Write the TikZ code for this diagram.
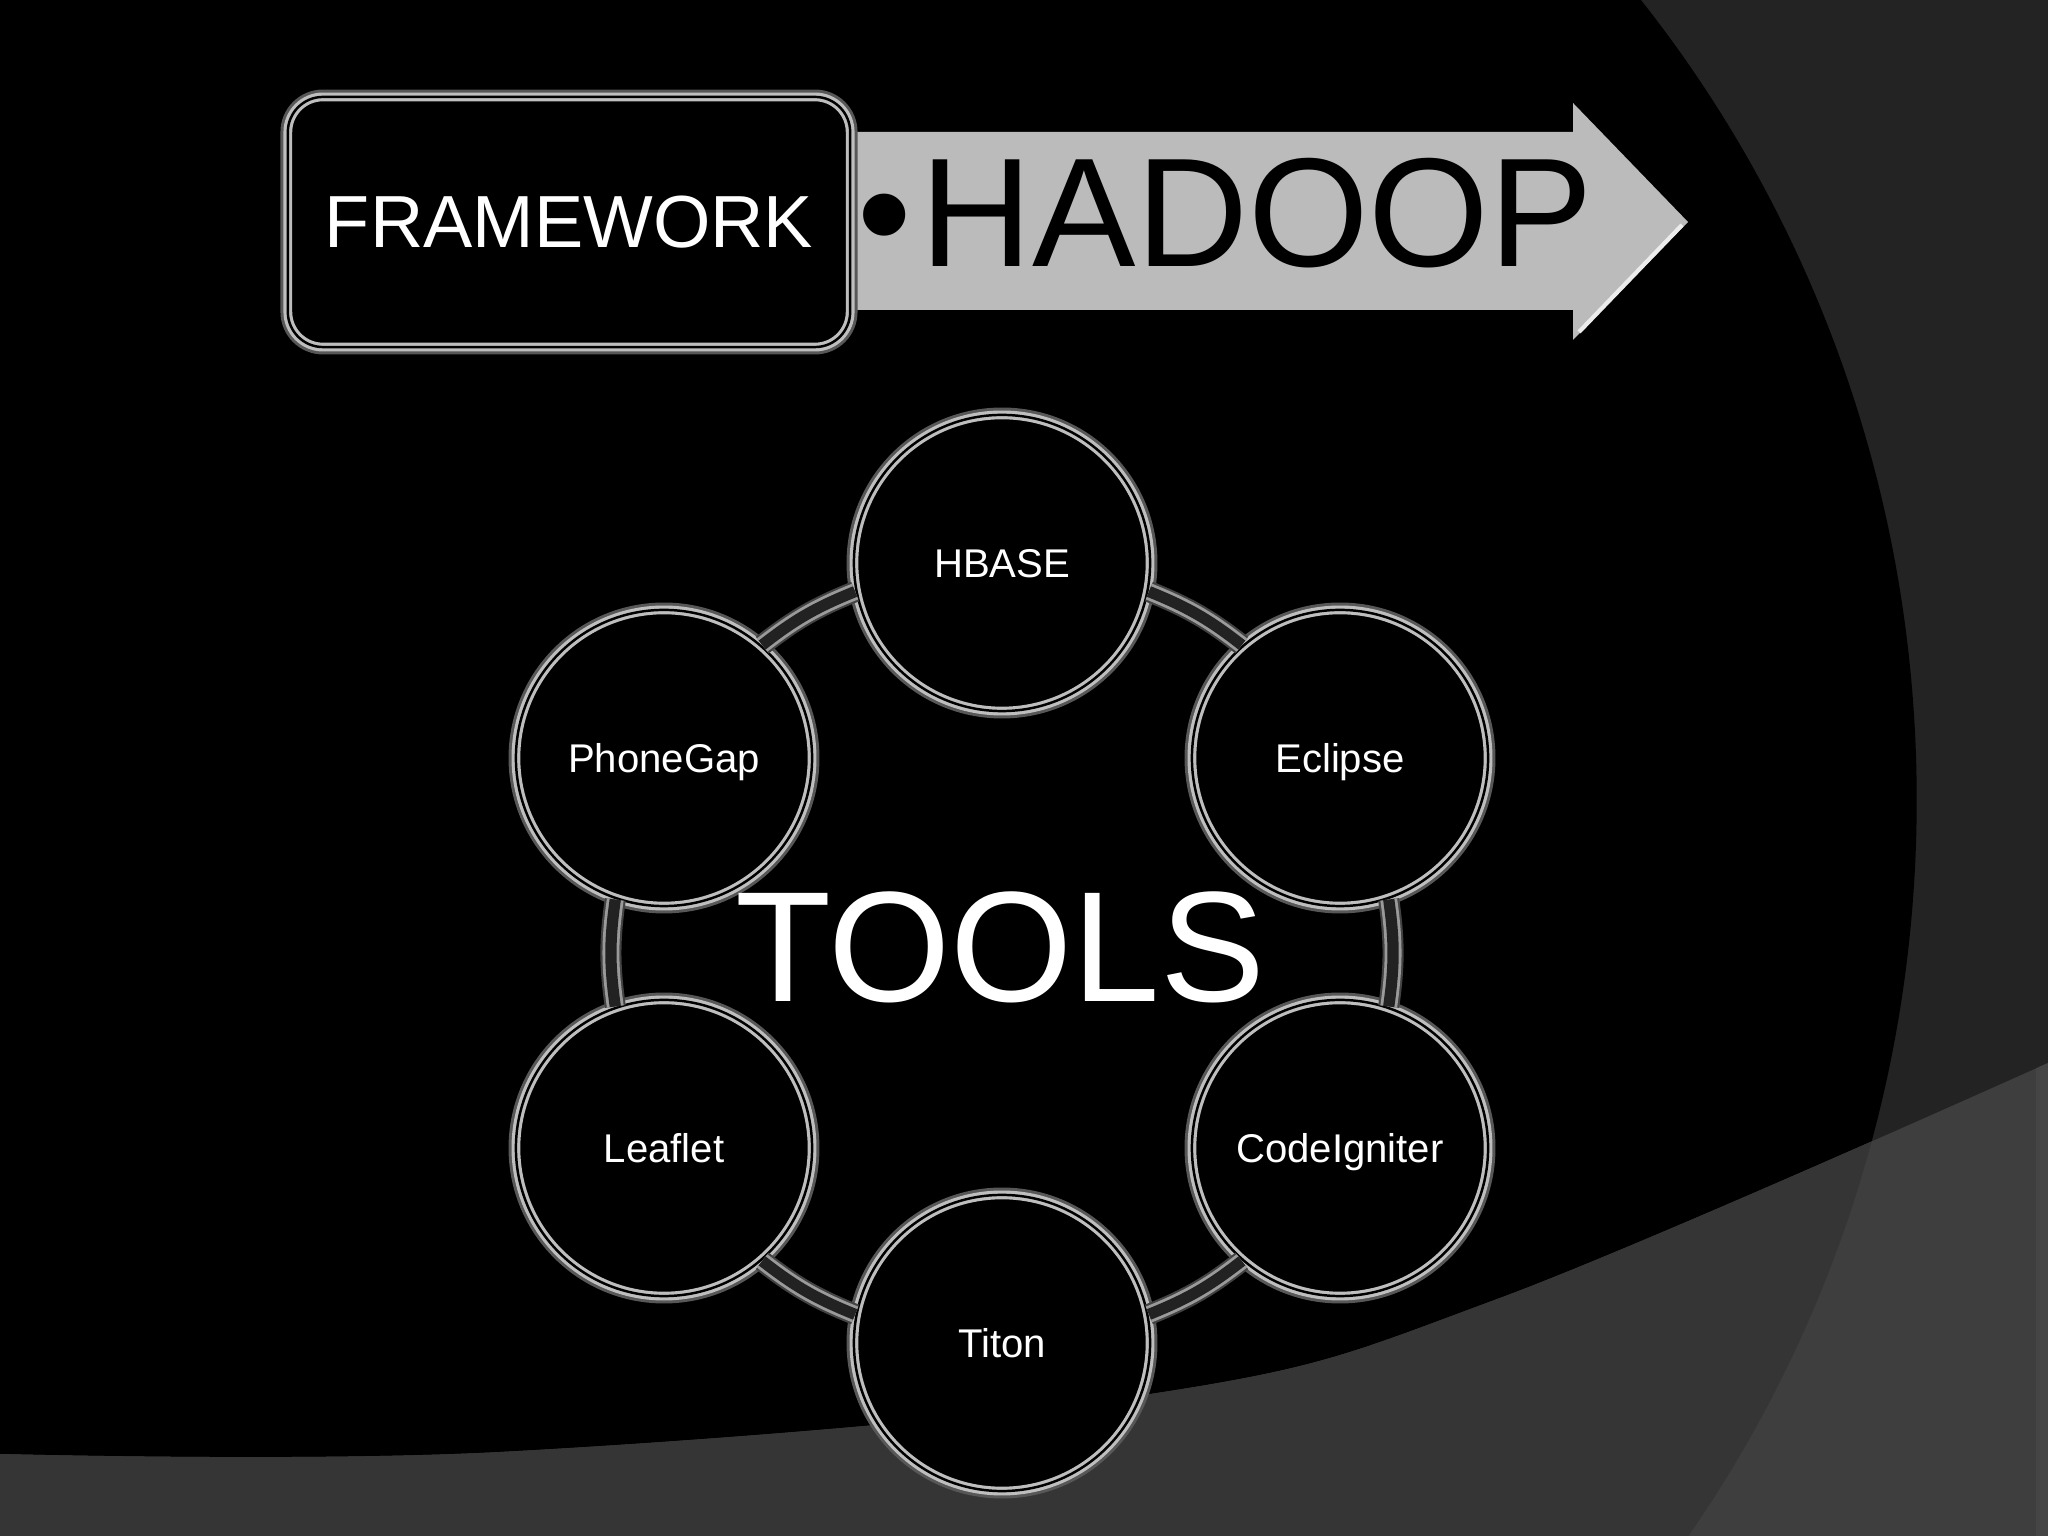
\documentclass[tikz,border=0pt]{standalone}
\usepackage{fontspec}
\setmainfont{Liberation Sans}

\definecolor{bgdark}{HTML}{232323}
\definecolor{bandout}{HTML}{3E3E3E}
\definecolor{bandin}{HTML}{353535}
\definecolor{bandedge}{HTML}{454545}
\definecolor{arrowgray}{HTML}{BBBBBB}
\definecolor{rimgray}{HTML}{BEBEBE}
\definecolor{glowgray}{HTML}{575757}
\definecolor{tubegray}{HTML}{9A9A9A}
\definecolor{tubefill}{HTML}{222222}
\definecolor{tubeglow}{HTML}{424242}

\newcommand{\bandpath}{(0,0) -- plot[smooth, tension=0.6] coordinates {(0,82) (500,84) (1157,143) (1500,238) (2048,473)} -- (2048,0) -- cycle}

\begin{document}
\begin{tikzpicture}[x=0.01cm, y=0.01cm,
        toolnode/.style={circle, minimum size=2.96cm, inner sep=0pt, fill=black,
            draw=rimgray, line width=0.9pt, double=black, double distance=0.7pt,
            preaction={draw=glowgray, line width=4.2pt},
            text=white, font=\fontsize{11.4pt}{13pt}\selectfont, text height=8.2pt, text depth=0pt},
        framebox/.style={rectangle, rounded corners=10pt, minimum width=5.62cm, minimum height=2.5cm,
            inner sep=0pt, fill=black, draw=rimgray, line width=0.9pt, double=black, double distance=0.7pt,
            preaction={draw=glowgray, line width=4.2pt},
            text=white, font=\fontsize{21pt}{25pt}\selectfont},
        ringlink/.style={draw=tubegray, line width=0.8pt, double=tubefill, double distance=3.2pt,
            preaction={draw=tubeglow, line width=6pt}}]
    \useasboundingbox (0,0) rectangle (2048,1536);
    \clip (0,0) rectangle (2048,1536);

    % Background: dark corner, black oval, lower band
    \fill[bgdark] (0,0) rectangle (2048,1536);
    \fill[black] (700,736) ellipse [x radius=12.16cm, y radius=12.61cm];
    \fill[bandout] \bandpath;
    \begin{scope}
        \clip (700,736) ellipse [x radius=12.16cm, y radius=12.61cm];
        \fill[bandin] \bandpath;
    \end{scope}
    \begin{scope}
        \clip (2036,0) rectangle (2048,1536);
        \fill[bandedge] \bandpath;
    \end{scope}

    % Arrow behind the framework box
    \fill[arrowgray] (800,1404) -- (1573,1404) -- (1573,1433) -- (1688,1314) -- (1573,1196) -- (1573,1226) -- (800,1226) -- cycle;
    \draw[white!85!gray, line width=1.2pt] (1682,1311) -- (1579,1204);

    \node[framebox] (frame) at (569,1314) {FRAMEWORK};
    \node[anchor=base west, inner sep=0pt, font=\fontsize{44.1pt}{50pt}\selectfont] (hadoop) at (857,1269) {•\kern2.5pt HADOOP};

    % Tools around the ring
    \node[toolnode] (hbase) at (1002,973) {HBASE};
    \node[toolnode] (eclipse) at (1340,778) {Eclipse};
    \node[toolnode] (codeigniter) at (1340,388) {CodeIgniter};
    \node[toolnode] (titon) at (1002,193) {Titon};
    \node[toolnode] (leaflet) at (664,388) {Leaflet};
    \node[toolnode] (phonegap) at (664,778) {PhoneGap};

    \draw[ringlink] (hbase.-11) to[out=-22, in=142] (eclipse.131);
    \draw[ringlink] (eclipse.-71) to[out=-82, in=82] (codeigniter.71);
    \draw[ringlink] (codeigniter.-131) to[out=-142, in=22] (titon.11);
    \draw[ringlink] (titon.169) to[out=158, in=-38] (leaflet.-49);
    \draw[ringlink] (leaflet.109) to[out=98, in=-98] (phonegap.-109);
    \draw[ringlink] (phonegap.49) to[out=38, in=-158] (hbase.-169);

    \node[anchor=base, inner sep=0pt, text=white, font=\fontsize{44.7pt}{50pt}\selectfont] (tools) at (1000,534) {TOOLS};
\end{tikzpicture}
\end{document}
